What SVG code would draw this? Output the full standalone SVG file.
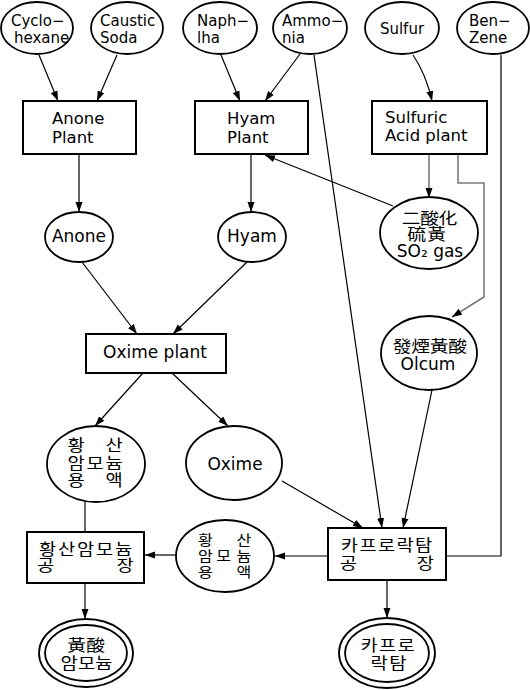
<svg xmlns="http://www.w3.org/2000/svg" width="530" height="690" viewBox="0 0 530 690">
<style>
.nd{fill:#fff;stroke:#000;stroke-width:1.8}
.bx{fill:#fff;stroke:#000;stroke-width:2}
.ln{fill:none;stroke:#000;stroke-width:1.2}
.gy{fill:none;stroke:#7a7a7a;stroke-width:1.6}
.t{font-family:"DejaVu Sans","Liberation Sans",sans-serif;font-size:17px;fill:#000}
.s{font-size:15px}
.b{font-size:16.5px}
.k{font-family:"Noto Sans CJK KR","Noto Sans CJK TC",sans-serif;font-size:16px;fill:#000}
.k14{font-size:14px}
.m{text-anchor:middle}
</style>
<defs>
<marker id="ar" viewBox="-10 -4 10 8" markerWidth="10" markerHeight="8" refX="0" refY="0" orient="auto" markerUnits="userSpaceOnUse">
<path d="M0,0 L-10,-3.5 L-10,3.5 z" fill="#000"/>
</marker>
</defs>
<rect width="530" height="690" fill="#fff"/>
<g id="connectors">
<path class="ln" d="M39,55 L58,101" marker-end="url(#ar)"/>
<path class="ln" d="M117,55 L97,101" marker-end="url(#ar)"/>
<path class="ln" d="M221,55 L240,101" marker-end="url(#ar)"/>
<path class="ln" d="M300,54 L265,101" marker-end="url(#ar)"/>
<path class="ln" d="M314,55 L382,528" marker-end="url(#ar)"/>
<path class="ln" d="M413,55 Q426,74 432,101" marker-end="url(#ar)"/>
<path class="ln" d="M501,55 L501,556 L446,556"/>
<path class="ln" d="M79,154 L79,212" marker-end="url(#ar)"/>
<path class="ln" d="M251,154 L251,212" marker-end="url(#ar)"/>
<path class="gy" d="M429,154 L429,198" marker-end="url(#ar)"/>
<path class="gy" d="M458,154 L458,183 L484,183 L484,297 L452,317" marker-end="url(#ar)"/>
<path class="ln" d="M393,206 L265,155" marker-end="url(#ar)"/>
<path class="ln" d="M82,262 L137,334" marker-end="url(#ar)"/>
<path class="ln" d="M247,262 L173,334" marker-end="url(#ar)"/>
<path class="ln" d="M143,373 L95,426" marker-end="url(#ar)"/>
<path class="ln" d="M172,373 L228,426" marker-end="url(#ar)"/>
<path class="ln" d="M432,390 L403,528" marker-end="url(#ar)"/>
<path class="ln" d="M282,481 L363,528" marker-end="url(#ar)"/>
<path class="ln" d="M328,556 L275,556" marker-end="url(#ar)"/>
<path class="ln" d="M176,555 L145,555" marker-end="url(#ar)"/>
<path class="ln" d="M85,502 L85,532"/>
<path class="ln" d="M85,583 L85,619" marker-end="url(#ar)"/>
<path class="ln" d="M387,580 L387,618" marker-end="url(#ar)"/>
</g>
<g id="cyclohexane">
<ellipse class="nd" cx="37" cy="28" rx="36" ry="26"/>
<text class="t s" x="11" y="26">Cyclo−</text>
<text class="t s" x="14" y="43">hexane</text>
</g>
<g id="caustic-soda">
<ellipse class="nd" cx="127" cy="28" rx="36" ry="26"/>
<text class="t s" x="100" y="26">Caustic</text>
<text class="t s" x="100" y="43">Soda</text>
</g>
<g id="naphtha">
<ellipse class="nd" cx="220" cy="28" rx="37" ry="26"/>
<text class="t s" x="197" y="26">Naph−</text>
<text class="t s" x="197" y="43">lha</text>
</g>
<g id="ammonia">
<ellipse class="nd" cx="310" cy="28" rx="37" ry="26"/>
<text class="t s" x="282" y="26">Ammo−</text>
<text class="t s" x="282" y="43">nia</text>
</g>
<g id="sulfur">
<ellipse class="nd" cx="402" cy="28" rx="37" ry="26"/>
<text class="t s m" x="402" y="34">Sulfur</text>
</g>
<g id="benzene">
<ellipse class="nd" cx="493" cy="28" rx="36" ry="26"/>
<text class="t s" x="469" y="26">Ben−</text>
<text class="t s" x="469" y="43">Zene</text>
</g>
<g id="anone-plant">
<rect class="bx" x="23" y="101" width="113" height="53"/>
<text class="t b" x="52" y="124">Anone</text>
<text class="t b" x="52" y="142.5">Plant</text>
</g>
<g id="hyam-plant">
<rect class="bx" x="195" y="101" width="113" height="53"/>
<text class="t b" x="227" y="124">Hyam</text>
<text class="t b" x="227" y="142.5">Plant</text>
</g>
<g id="sulfuric-acid-plant">
<rect class="bx" x="372" y="101" width="115" height="53"/>
<text class="t b" x="385" y="122.5">Sulfuric</text>
<text class="t b" x="385" y="141">Acid plant</text>
</g>
<g id="anone">
<ellipse class="nd" cx="79" cy="237" rx="34" ry="25"/>
<text class="t m" x="79" y="242">Anone</text>
</g>
<g id="hyam">
<ellipse class="nd" cx="252" cy="237" rx="34" ry="25"/>
<text class="t m" x="252" y="242">Hyam</text>
</g>
<g id="so2-gas">
<ellipse class="nd" cx="429" cy="233" rx="49" ry="36"/>
<text class="k m" transform="matrix(1.17 0 0 1 -73.015 0)" x="413.69 429.5 445.31" y="224">二酸化</text>
<text class="k m" transform="matrix(1.17 0 0 1 -73.015 0)" x="418.39 435.48" y="240">硫黃</text>
<text class="t m" x="430" y="257">SO₂ gas</text>
</g>
<g id="oleum">
<ellipse class="nd" cx="429" cy="353" rx="48" ry="37"/>
<text class="k m" transform="matrix(1.17 0 0 1 -73.1 0)" x="406.07 421.88 437.69 453.5" y="352">發煙黃酸</text>
<text class="t m" x="428" y="370">Olcum</text>
</g>
<g id="oxime-plant">
<rect class="bx" x="86" y="334" width="140" height="39"/>
<text class="t m" x="155" y="358">Oxime plant</text>
</g>
<g id="ammonium-sulfate-solution-1">
<ellipse class="nd" cx="96" cy="464" rx="49" ry="38"/>
<text class="k m" transform="matrix(1.17 0 0 1 -16.15 0)" x="78.76 111.24" y="451">황산</text>
<text class="k m" transform="matrix(1.17 0 0 1 -16.15 0)" x="78.76 95 111.24" y="469">암모늄</text>
<text class="k m" transform="matrix(1.17 0 0 1 -16.15 0)" x="78.76 111.24" y="486">용액</text>
</g>
<g id="oxime">
<ellipse class="nd" cx="234" cy="463" rx="48" ry="37"/>
<text class="t m" x="235" y="470">Oxime</text>
</g>
<g id="ammonium-sulfate-plant">
<rect class="bx" x="27" y="532" width="117" height="51"/>
<text class="k m" transform="matrix(1.17 0 0 1 -14.535 0)" x="53.02 69.26 85.5 101.74 117.98" y="555">황산암모늄</text>
<text class="k m" transform="matrix(1.17 0 0 1 -14.535 0)" x="51.31 119.26" y="571">공장</text>
</g>
<g id="ammonium-sulfate-solution-2">
<ellipse class="nd" cx="225" cy="556" rx="49" ry="36"/>
<text class="k k14 m" transform="matrix(1.15 0 0 1 -33.6 0)" x="207.9 241.4" y="545">황산</text>
<text class="k k14 m" transform="matrix(1.15 0 0 1 -33.6 0)" x="207.9 223.6 241.4" y="561">암모늄</text>
<text class="k k14 m" transform="matrix(1.15 0 0 1 -33.6 0)" x="207.9 241.4" y="577">용액</text>
</g>
<g id="caprolactam-plant">
<rect class="bx" x="328" y="528" width="118" height="52"/>
<text class="k m" transform="matrix(1.17 0 0 1 -65.705 0)" x="354.71 370.69 386.5 402.31 418.29" y="551">카프로락탐</text>
<text class="k m" transform="matrix(1.17 0 0 1 -65.705 0)" x="354.02 419.83" y="569">공장</text>
</g>
<g id="ammonium-sulfate">
<ellipse class="nd" cx="86" cy="653" rx="47" ry="34"/>
<ellipse class="nd" cx="86" cy="653" rx="41" ry="28"/>
<text class="k m" transform="matrix(1.17 0 0 1 -14.62 0)" x="77.88 94.12" y="651">黃酸</text>
<text class="k m" transform="matrix(1.17 0 0 1 -14.62 0)" x="71.47 86.43 101.38" y="669">암모늄</text>
</g>
<g id="caprolactam">
<ellipse class="nd" cx="387" cy="653" rx="48" ry="35"/>
<ellipse class="nd" cx="387" cy="653" rx="42" ry="29"/>
<text class="k m" transform="matrix(1.17 0 0 1 -65.875 0)" x="371.69 387.5 403.31" y="651">카프로</text>
<text class="k m" transform="matrix(1.17 0 0 1 -65.875 0)" x="380.24 396.47" y="669">락탐</text>
</g>
</svg>
